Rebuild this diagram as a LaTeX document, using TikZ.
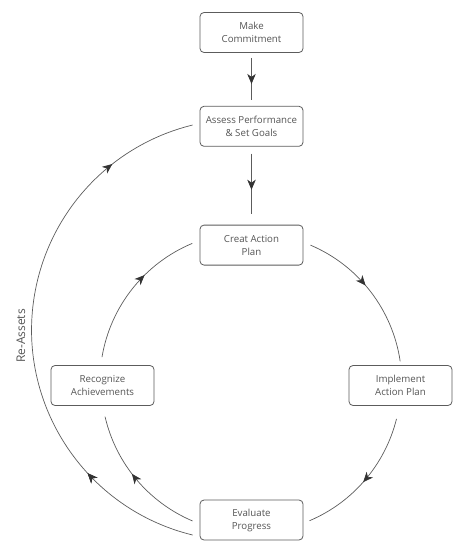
\documentclass[tikz,border=0pt]{standalone}
\usepackage{fontspec}
\setmainfont{Open Sans}
\usetikzlibrary{positioning, arrows.meta, decorations.markings}
\definecolor{linegray}{HTML}{5C5C5C}
\definecolor{tipgray}{HTML}{333333}
\definecolor{textgray}{HTML}{555555}

\begin{document}
\begin{tikzpicture}[x=1pt,y=1pt,
    box/.style={draw=linegray,rounded corners=4pt,minimum width=103pt,minimum height=40pt,
        align=center,text=textgray,font=\fontsize{9.7}{13}\selectfont,line width=0.8pt},
    flow/.style={draw=linegray,line width=0.7pt,postaction={decorate},
        decoration={markings,mark=at position #1 with {\arrow[tipgray]{Stealth[length=10pt,width=8.5pt,inset=3pt]}}}},
    flow/.default=0.5]
    \useasboundingbox (0,0) rectangle (474,-551);
    % boxes
    \node[box] (commit) at (251.5,-32.5) {Make\\Commitment};
    \node[box, below=53pt of commit] (assess) {Assess Performance\\\& Set Goals};
    \node[box, below=78pt of assess] (plan) {Creat Action\\Plan};
    \node[box] (implement) at (400.5,-385.5) {Implement\\Action Plan};
    \node[box] (recognize) at (102.5,-385.5) {Recognize\\Achievements};
    \node[box] (evaluate) at (251.5,-520) {Evaluate\\Progress};
    \node[rotate=90,text=textgray,font=\fontsize{12}{14}\selectfont] (reassets) at (21,-336) {Re-Assets};

    % straight arrows
    \draw[flow=0.62] ([yshift=-5pt]commit.south) -- ([yshift=6pt]assess.north);
    \draw[flow=0.6] ([yshift=-7pt]assess.south) -- ([yshift=11pt]plan.north);

    % the cycle
    \draw[flow=0.45] ([xshift=7pt]plan.east) arc[start angle=67, end angle=8.4, radius=150];
    \draw[flow=0.52] ([xshift=-4pt,yshift=-13pt]implement.south) arc[start angle=-14, end angle=-67, radius=150];
    \draw[flow=0.55] ([xshift=-7pt,yshift=-1pt]evaluate.west) arc[start angle=247, end angle=193, radius=150];
    \draw[flow=0.62] ([xshift=-0.5pt,yshift=8pt]recognize.north) arc[start angle=170.5, end angle=112.6, radius=150];

    % re-assess loop
    \draw[flow=0.22, postaction={decorate,decoration={markings,mark=at position 0.84 with {\arrow[tipgray]{Stealth[length=10pt,width=8.5pt,inset=3pt]}}}}]
        ([xshift=-7pt,yshift=-15pt]evaluate.west) arc[start angle=256.3, end angle=103.7, radius=211];
\end{tikzpicture}
\end{document}
